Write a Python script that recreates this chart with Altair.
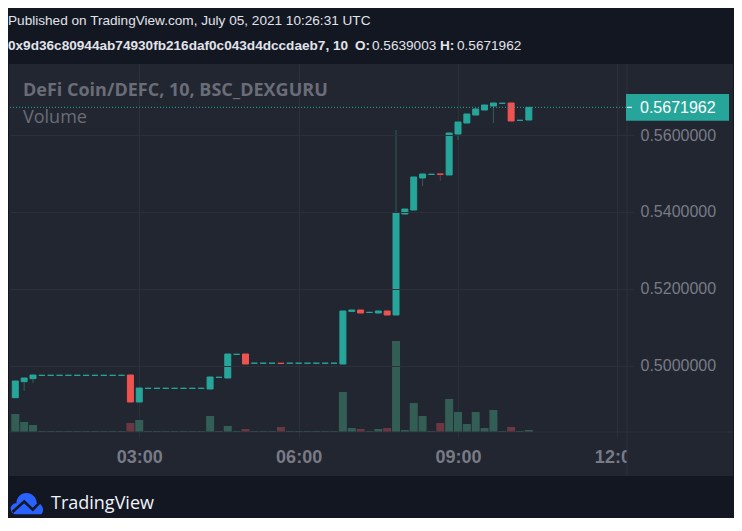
import altair as alt
import pandas as pd

# ---------------- data ----------------
times = ["00:40", "00:50", "01:00",
         "01:10", "01:20", "01:30", "01:40", "01:50", "02:00", "02:10", "02:20", "02:30", "02:40",
         "02:50", "03:00",
         "03:10", "03:20", "03:30", "03:40", "03:50", "04:00", "04:10",
         "04:20", "04:30", "04:40", "04:50", "05:00",
         "05:10", "05:20", "05:30", "05:40", "05:50", "06:00", "06:10", "06:20", "06:30", "06:40",
         "06:50", "07:00", "07:10", "07:20", "07:30", "07:40", "07:50",
         "08:00", "08:10", "08:20", "08:30", "08:40", "08:50", "09:00", "09:10", "09:20",
         "09:30", "09:40", "09:50", "10:00", "10:10", "10:20"]

opens = [0.49168, 0.49584, 0.49662,
         0.49750, 0.49750, 0.49750, 0.49750, 0.49750, 0.49750, 0.49750, 0.49750, 0.49750, 0.49750,
         0.49758, 0.49056,
         0.49412, 0.49412, 0.49412, 0.49412, 0.49412, 0.49412, 0.49412,
         0.49394, 0.49698, 0.49680, 0.50296, 0.50304,
         0.50065, 0.50065, 0.50065, 0.50065, 0.50065, 0.50065, 0.50065, 0.50065, 0.50065, 0.50065,
         0.50044, 0.51412, 0.51449, 0.51385, 0.51371, 0.51423, 0.51319,
         0.53945, 0.54049, 0.54882, 0.54978, 0.54986, 0.54960, 0.56026, 0.56312, 0.56520,
         0.56650, 0.56754, 0.56825, 0.56832, 0.56382, 0.5639003]

closes = [0.49602, 0.49680, 0.49758,
          0.49750, 0.49750, 0.49750, 0.49750, 0.49750, 0.49750, 0.49750, 0.49750, 0.49750, 0.49750,
          0.49056, 0.49420,
          0.49412, 0.49412, 0.49412, 0.49412, 0.49412, 0.49412, 0.49412,
          0.49706, 0.49698, 0.50304, 0.50296, 0.50044,
          0.50065, 0.50065, 0.50065, 0.50058, 0.50065, 0.50065, 0.50065, 0.50065, 0.50065, 0.50065,
          0.51423, 0.51449, 0.51371, 0.51389, 0.51423, 0.51319, 0.53971,
          0.54075, 0.54908, 0.54986, 0.54978, 0.54978, 0.56052, 0.56338, 0.56546, 0.56676,
          0.56780, 0.56832, 0.56825, 0.56364, 0.56382, 0.5671962]

highs = [0.49602, 0.49680, 0.49758,
         0.49750, 0.49750, 0.49750, 0.49750, 0.49750, 0.49750, 0.49750, 0.49750, 0.49750, 0.49750,
         0.49758, 0.49420,
         0.49412, 0.49412, 0.49412, 0.49412, 0.49412, 0.49412, 0.49412,
         0.49706, 0.49698, 0.50304, 0.50296, 0.50304,
         0.50065, 0.50065, 0.50065, 0.50065, 0.50065, 0.50065, 0.50065, 0.50065, 0.50065, 0.50065,
         0.51423, 0.51449, 0.51449, 0.51389, 0.51423, 0.51423, 0.56130,
         0.54075, 0.54908, 0.54986, 0.54978, 0.54986, 0.56052, 0.56338, 0.56546, 0.56700,
         0.56780, 0.56832, 0.56825, 0.56832, 0.56382, 0.5671962]

lows = [0.49168, 0.49342, 0.49550,
        0.49750, 0.49750, 0.49750, 0.49750, 0.49750, 0.49750, 0.49750, 0.49750, 0.49750, 0.49750,
        0.49056, 0.49056,
        0.49412, 0.49412, 0.49412, 0.49412, 0.49412, 0.49412, 0.49412,
        0.49394, 0.49698, 0.49680, 0.50296, 0.50044,
        0.50065, 0.50065, 0.50065, 0.50058, 0.50065, 0.50065, 0.50065, 0.50065, 0.50065, 0.50065,
        0.50044, 0.51412, 0.51371, 0.51385, 0.51371, 0.51319, 0.51319,
        0.53945, 0.54049, 0.54674, 0.54978, 0.54804, 0.54960, 0.55870, 0.56312, 0.56520,
        0.56650, 0.56312, 0.56825, 0.56364, 0.56382, 0.5639003]

volumes = [18, 10, 7,
           1, 1, 1, 1, 1, 1, 1, 1, 1, 1,
           9, 12,
           1, 1, 1, 1, 1, 1, 1,
           16, 1, 6, 1, 3,
           1, 1, 1, 5, 1, 1, 1, 1, 1, 1,
           40, 4, 3, 1, 3, 4, 91,
           2, 29, 16, 1, 9, 33, 20, 8, 20,
           4, 22, 1, 5, 1, 2]

last_price = 0.5671962
price_ticks = [0.50, 0.52, 0.54, 0.56]

header_1 = "Published on TradingView.com, July 05, 2021 10:26:31 UTC"
header_2 = "0x9d36c80944ab74930fb216daf0c043d4dccdaeb7, 10"
legend_1 = "DeFi Coin/DEFC, 10, BSC_DEXGURU"
legend_2 = "Volume"

# ---------------- styling ----------------
PAGE = "#131722"
PANEL = "#222630"
GRID = "#2c303b"
UP = "#26a69a"
DOWN = "#ef5350"
VOL_UP = "#335e56"
VOL_DOWN = "#6b3842"
MUTED = "#787b86"
WHITE = "#e1e3ea"
SANS = "Liberation Sans, Arial, sans-serif"
OPEN = "Open Sans, sans-serif"
HEAD = 13.6

df = pd.DataFrame({
    "t": ["2021-07-05T%s:00Z" % s for s in times],
    "open": opens, "high": highs, "low": lows, "close": closes, "vol": volumes,
})
df["dir"] = ["up" if c >= o else "down" for o, c in zip(opens, closes)]

x_scale = alt.Scale(type="utc", domain=[
    alt.DateTime(year=2021, month=7, date=5, hours=0, minutes=39, seconds=40, utc=True),
    alt.DateTime(year=2021, month=7, date=5, hours=12, minutes=5, seconds=13, utc=True)])
x_axis = alt.Axis(
    values=[alt.DateTime(year=2021, month=7, date=5, hours=h, utc=True) for h in (3, 6, 9, 12)],
    format="%H:%M", title=None, grid=True, gridColor=GRID, domain=False,
    ticks=True, tickColor=GRID, tickSize=5, labelPadding=11,
    labelColor=MUTED, labelFont=SANS, labelFontSize=18, labelFontWeight="bold", zindex=0)
X = alt.X("t:T", scale=x_scale, axis=x_axis)

price_scale = alt.Scale(domain=[0.482757, 0.578466], nice=False, zero=False)
price_axis = alt.Axis(values=price_ticks, format=".7f", orient="right", title=None,
                      grid=True, gridColor=GRID, domain=False, ticks=True, tickColor=GRID,
                      tickSize=6, labelPadding=7, labelColor=MUTED, labelFont=SANS,
                      labelFontSize=16, zindex=1)
vol_scale = alt.Scale(domain=[0, 368], nice=False)

cdir = alt.Scale(domain=["up", "down"], range=[UP, DOWN])
vdir = alt.Scale(domain=["up", "down"], range=[VOL_UP, VOL_DOWN])

base = alt.Chart(df)

volume = base.mark_bar(size=8, clip=True, opacity=1).encode(
    x=X,
    y=alt.Y("vol:Q", scale=vol_scale, axis=None),
    color=alt.Color("dir:N", scale=vdir, legend=None),
)

wicks = base.mark_rule(strokeWidth=1, clip=True, opacity=1).encode(
    x=X,
    y=alt.Y("low:Q", scale=price_scale, axis=price_axis),
    y2="high:Q",
    color=alt.Color("dir:N", scale=cdir, legend=None),
)

bodies = base.mark_bar(size=6, strokeWidth=1, clip=True, opacity=1, fillOpacity=1,
                       strokeOpacity=1).encode(
    x=X,
    y=alt.Y("open:Q", scale=price_scale, axis=price_axis),
    y2="close:Q",
    fill=alt.Fill("dir:N", scale=cdir, legend=None),
    stroke=alt.Stroke("dir:N", scale=cdir, legend=None),
)

one = alt.Data(values=[{}])

last_line = alt.Chart(one).mark_rule(color=UP, strokeWidth=1, strokeDash=[1, 2]).encode(
    x=alt.value(0), x2=alt.value(616),
    y=alt.datum(last_price, scale=price_scale),
)

price_layers = alt.layer(wicks, bodies, last_line)


def box(x, x2, y, y2, color):
    return alt.Chart(one).mark_rect(color=color).encode(
        x=alt.value(x), x2=alt.value(x2), y=alt.value(y), y2=alt.value(y2))


def line(x, x2, y, y2, color, width=1):
    return alt.Chart(one).mark_rule(color=color, strokeWidth=width).encode(
        x=alt.value(x), x2=alt.value(x2), y=alt.value(y), y2=alt.value(y2))


def label(txt, x, y, size, color, weight="normal", font=SANS, baseline="alphabetic", align="left"):
    return alt.Chart(one).mark_text(
        text=txt, align=align, baseline=baseline, fontSize=size, fontWeight=weight,
        font=font, color=color).encode(x=alt.value(x), y=alt.value(y))


cloud = "M-0.7,0.54 A0.29,0.29 0 0 1 -0.62,-0.03 A0.52,0.52 0 0 1 0.42,-0.05 A0.35,0.35 0 0 1 0.65,0.54 Z"
zig = "M-0.82,0.42 L-0.22,-0.12 L0.22,0.3 L0.78,-0.28"

logo_cloud = alt.Chart(one).mark_point(shape=cloud, size=1521, filled=True, color="#2962ff",
                                       opacity=1).encode(x=alt.value(18.5), y=alt.value(439.8))
logo_zig = alt.Chart(one).mark_point(shape=zig, size=1521, filled=False, color=PAGE,
                                     strokeWidth=2.6, opacity=1).encode(x=alt.value(18.5), y=alt.value(439.8))

decor = [
    # page-coloured surroundings of the chart panel
    box(-2, 724, -56, 0, PAGE),
    box(-2, -1, 0, 413, PAGE),
    box(723, 724, 0, 413, PAGE),
    box(-2, 724, 412, 460, PAGE),
    # price-scale column below the plot (hides the cut part of the last time label)
    box(617, 723, 369, 412, PANEL),
    # borders
    line(617, 617, 0, 412, GRID),
    line(-1, 723, 368, 368, GRID),
    # last price tag
    box(616, 719, 30, 56.7, UP),
    line(617, 622, 43.3, 43.3, "#ffffff"),
    label("%.7f" % last_price, 630, 43.5, 16, "#ffffff", baseline="middle"),
    # legend inside the pane
    label(legend_1, 13, 32, 18, "#6a6d78", weight="bold", font=OPEN),
    label(legend_2, 13, 58.7, 18, "#6a6d78", font=OPEN),
    # header
    label(header_1, -2, -39, HEAD, WHITE),
    label(header_2, -2, -14.5, HEAD, WHITE, weight="bold"),
    label("O:", 345, -14.5, HEAD, WHITE, weight="bold"),
    label("%.7f" % opens[-1], 362, -14.5, HEAD, WHITE),
    label("H:", 430, -14.5, HEAD, WHITE, weight="bold"),
    label("%.7f" % highs[-1], 447, -14.5, HEAD, WHITE),
    # logo
    logo_cloud, logo_zig,
    label("TradingView", 41, 445, 18, "#f0f3fa", font=OPEN),
]

chart = alt.layer(volume, price_layers).resolve_scale(y="independent")
chart = alt.layer(chart, *decor).properties(
    width=617, height=368,
    padding={"left": 2, "top": 56, "right": 107, "bottom": 86},
    autosize=alt.AutoSizeParams(type="none"),
    background=PANEL,
).configure_view(stroke=None)

chart.save("out.html", embed_options={"renderer": "svg", "actions": False})
